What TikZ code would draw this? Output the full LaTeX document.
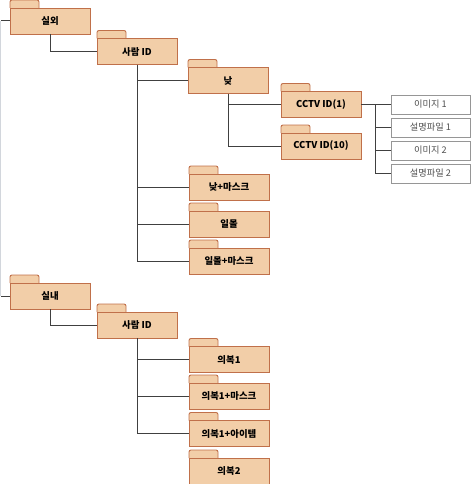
\documentclass[tikz,border=0pt]{standalone}
\usepackage{fontspec}
\setmainfont{Noto Sans CJK KR}
\definecolor{folderfill}{RGB}{242,206,168}
\definecolor{folderline}{RGB}{192,112,74}
\definecolor{wirecol}{RGB}{64,64,64}
\definecolor{fileline}{RGB}{150,150,150}
\definecolor{filetext}{RGB}{80,80,80}
\definecolor{railcol}{RGB}{210,214,220}
% folder = tab + body node
\newcommand{\folder}[3]{%
  \filldraw[folderline, fill=folderfill, line width=0.9pt, rounded corners=2pt]
    (#2) ++(-40,-13) -- ++(0,-8) -- ++(29,0) -- ++(0,8);
  \node[folder] (#1) at (#2) {#3};
}
\begin{document}
\begin{tikzpicture}[x=1pt,y=-1pt,
  folder/.style={draw=folderline, fill=folderfill, line width=0.9pt,
    minimum width=80pt, minimum height=26pt, inner sep=0pt,
    font=\bfseries\fontsize{9.4}{11}\selectfont},
  file/.style={draw=fileline, fill=white, line width=0.8pt, text=filetext,
    minimum width=79pt, minimum height=19pt, inner sep=0pt,
    font=\fontsize{9.2}{11}\selectfont},
  wire/.style={draw=wirecol, line width=1pt},
  rail/.style={draw=railcol, line width=1.2pt}]
  \useasboundingbox (0,0) rectangle (474,484);
  \folder{outdoor}{50,21}{실외}
  \folder{person1}{137,51.5}{사람 ID}
  \folder{day}{228,80.5}{낮}
  \folder{cctv1}{321,104.5}{CCTV ID(1)}
  \folder{cctv10}{321,146}{CCTV ID(10)}
  \folder{daymask}{229,187}{낮+마스크}
  \folder{sunset}{229,224}{일몰}
  \folder{sunsetmask}{229,261}{일몰+마스크}
  \folder{indoor}{50,296}{실내}
  \folder{person2}{137,325}{사람 ID}
  \folder{cloth1}{229,359.5}{의복1}
  \folder{cloth1mask}{229,396}{의복1+마스크}
  \folder{cloth1item}{229,433.5}{의복1+아이템}
  \folder{cloth2}{229,471}{의복2}
  \foreach \name/\y/\txt in {img1/104.5/이미지 1, desc1/127.5/설명파일 1,
      img2/150.5/이미지 2, desc2/173.5/설명파일 2}
    \node[file] (\name) at (430.5,\y) {\txt};
  \coordinate (edge1) at (0.8,21);
  \coordinate (edge2) at (0.8,296);
  \draw[rail] (edge1) -- (edge2);
  \draw[wire] (edge1) -- (outdoor.west);
  \draw[wire] (edge2) -- (indoor.west);
  \draw[wire] (outdoor.south) |- (person1.west);
  \draw[wire] (indoor.south) |- (person2.west);
  \foreach \f in {day,daymask,sunset,sunsetmask}
    \draw[wire] (person1.south) |- (\f.west);
  \foreach \f in {cloth1,cloth1mask,cloth1item}
    \draw[wire] (person2.south) |- (\f.west);
  \foreach \f in {cctv1,cctv10}
    \draw[wire] (day.south) |- (\f.west);
  \draw[wire] (cctv1.east) -- ++(14,0) coordinate (split);
  \foreach \f in {img1,desc1,img2,desc2}
    \draw[wire] (split) |- (\f.west);
\end{tikzpicture}
\end{document}
